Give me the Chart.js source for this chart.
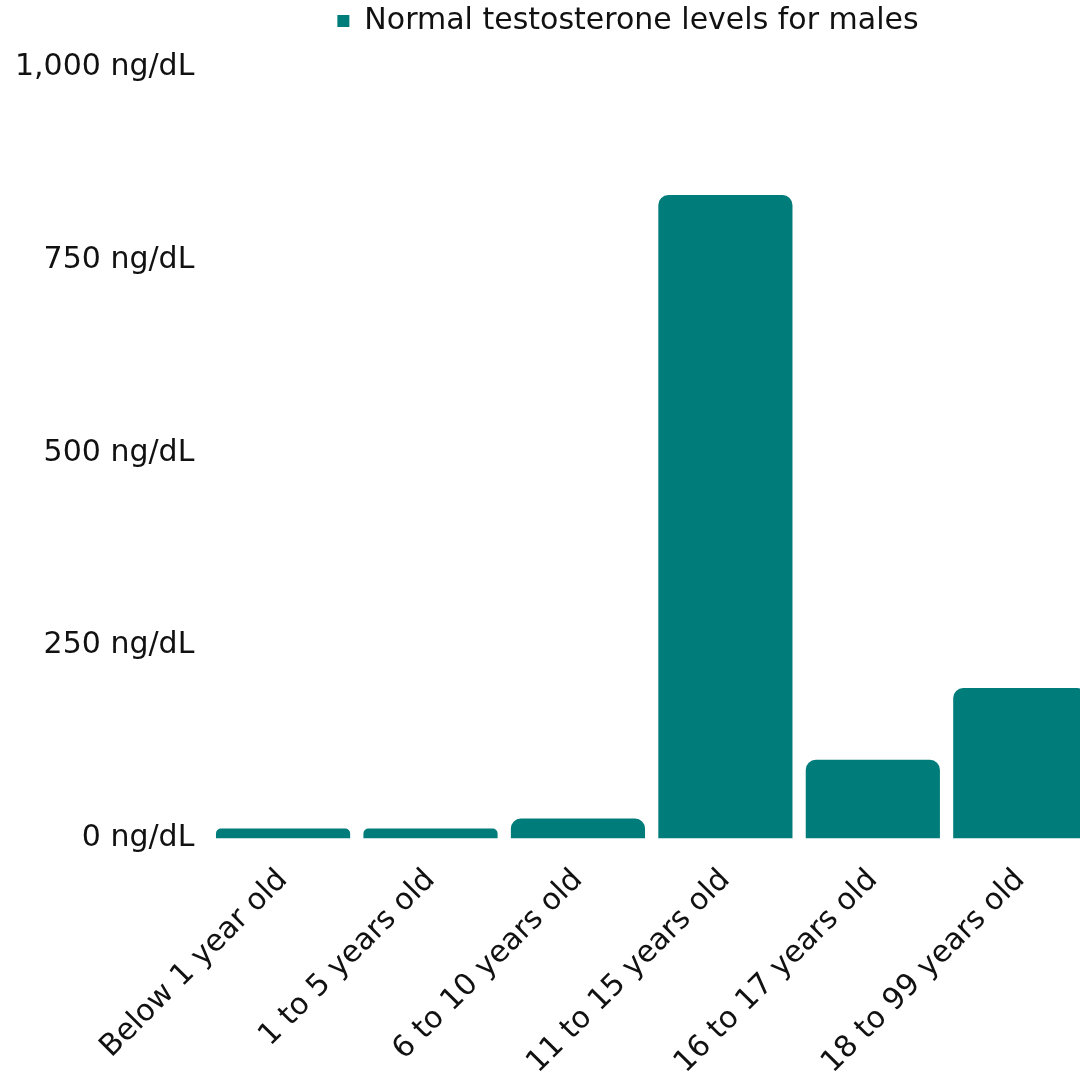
<!DOCTYPE html>
<html>
<head>
<meta charset="utf-8">
<script src="https://cdn.jsdelivr.net/npm/chart.js@4"></script>
<style>
  html, body { margin: 0; padding: 0; background: #fff; overflow: hidden; }
  #wrap { width: 1094px; height: 1080px; }
</style>
</head>
<body>
<div id="wrap"><canvas id="chart_bar"></canvas></div>
<script>
// data
var categories = ["Below 1 year old", "1 to 5 years old", "6 to 10 years old", "11 to 15 years old", "16 to 17 years old", "18 to 99 years old"]
var levels = [13, 13, 26, 834, 102, 195]
var seriesName = "Normal testosterone levels for males"
var yTicks = [0, 250, 500, 750, 1000]

var teal = "#007C7A"
var fontFam = 'DejaVu Sans'
var fontSize = 30

// legend sits right of the canvas middle and a bit higher in the original
var shiftLegend = {
	id: "shiftLegend",
	afterLayout: function(chart){
		var lg = chart.legend
		lg.left += 81
		lg.right += 81
		lg.top -= 21
		lg.bottom -= 21
	}
}

var ctx = document.getElementById("chart_bar");
var myChart = new Chart(ctx, {
	type: 'bar',
	data: {
		labels: categories,
		datasets: [{
			label: seriesName,
			data: levels,
			backgroundColor: teal,
			borderWidth: 0,
			borderRadius: {topLeft: 10, topRight: 10, bottomLeft: 0, bottomRight: 0},
			borderSkipped: false,
			categoryPercentage: 1,
			barPercentage: 0.91
		}]
	},
	options: {
		responsive: true,
		maintainAspectRatio: false,
		animation: false,
		layout: {padding: {top: 0, left: 0, right: 0, bottom: -25}},
		plugins: {
			legend: {
				position: 'top',
				labels: {
					usePointStyle: true,
					pointStyle: 'rect',
					boxWidth: 12,
					boxHeight: 12,
					color: '#111',
					padding: 27,
					font: {family: fontFam, size: fontSize}
				}
			},
			tooltip: {enabled: false}
		},
		scales: {
			x: {
				grid: {display: false, drawTicks: false},
				border: {display: false},
				ticks: {
					color: '#111',
					maxRotation: 45,
					minRotation: 45,
					padding: 24,
					font: {family: fontFam, size: fontSize}
				}
			},
			y: {
				min: 0,
				max: 1000,
				afterBuildTicks: function(axis){
					axis.ticks = yTicks.map(function(v){ return {value: v} })
				},
				grid: {display: false, drawTicks: false},
				border: {display: false},
				ticks: {
					color: '#111',
					padding: 15,
					font: {family: fontFam, size: fontSize},
					callback: function(v){ return v.toLocaleString('en-US') + ' ng/dL' }
				}
			}
		}
	},
	plugins: [shiftLegend]
});
</script>
</body>
</html>
